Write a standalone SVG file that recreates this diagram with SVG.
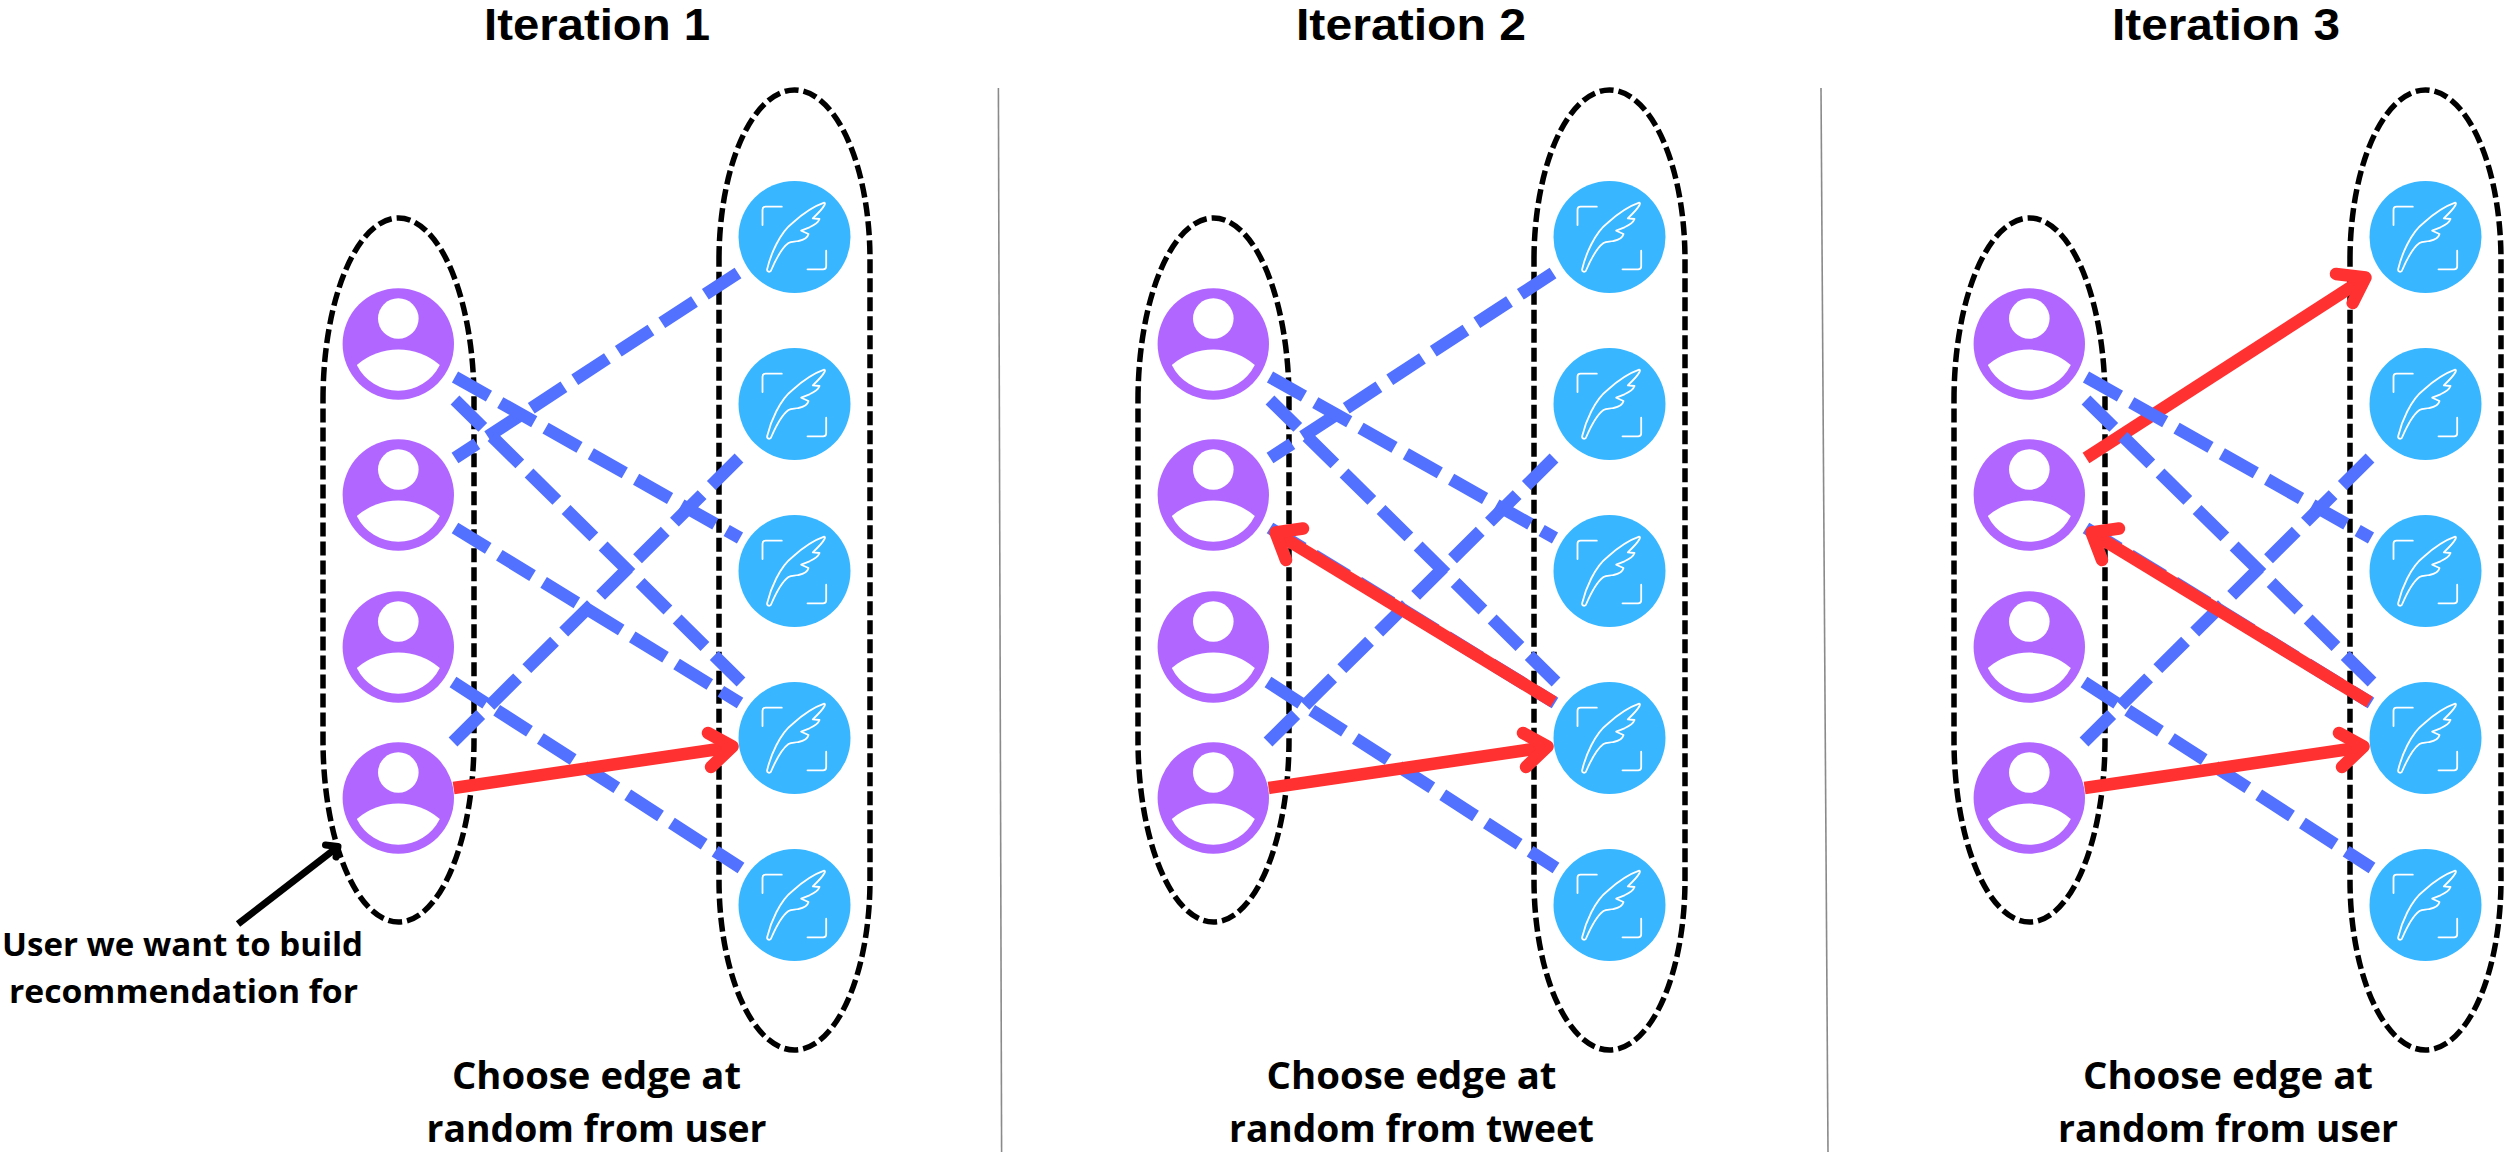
<svg xmlns="http://www.w3.org/2000/svg" width="2514" height="1155" viewBox="0 0 2514 1155">
<style>
text{font-family:"Open Sans","Noto Sans","Liberation Sans",sans-serif;font-weight:700;fill:#000;text-anchor:middle}
.t{font-family:"Liberation Sans","Open Sans",sans-serif;font-size:44px}
.c{font-size:38px}
.a{font-size:33px}
.oval{fill:none;stroke:#000;stroke-width:5.5;stroke-dasharray:14 5}
.b{stroke:#5271ff;stroke-width:12.5;stroke-dasharray:39 13;fill:none}
.r{stroke:#ff3131;stroke-width:12.5;fill:none;stroke-linecap:butt}
.h{stroke:#ff3131;stroke-width:12.5;fill:none;stroke-linecap:round;stroke-linejoin:round}
.d{stroke:#8a8a8a;stroke-width:1.6;fill:none}
.w{fill:none;stroke:#fff;stroke-width:1.8;stroke-linejoin:round;stroke-linecap:round}
.k{stroke:#000;stroke-width:7;fill:none}
</style>
<defs>
<g id="user"><circle r="55.7" fill="#b066ff"/><circle cy="-25.5" r="20.3" fill="#fff"/><path d="M-41.5 21A63.6 63.6 0 0 1 41.5 21A46.3 46.3 0 0 1-41.5 21Z" fill="#fff"/></g>
<g id="tweet"><circle r="56" fill="#38b6ff"/>
<path class="w" d="M-12.7-30.3H-29Q-32-30.3-32-27.3V-12M13 32.3H28.7Q31.7 32.3 31.7 29.3V13.7"/>
<path class="w" d="M-26 34.7Q-27.800 34-27.3 32C-24 18-15-4-2-14C8-23 20-31 29.7-34.3Q31-34 30-32C28-28 24-24 18.3-18.7L25-18C24-15 20-12 15-9.7L6.7-6.3L14-3C13 1 9 3 4 4C0 5-3 4-6 6C-13 11-19 23-23.7 34Q-24.5 35-26 34.7Z"/></g>
<path id="ovalL" class="oval" d="M323 400A75.5 182 0 0 1 474 400V740A75.5 182 0 0 1 323 740Z"/>
<path id="ovalR" class="oval" d="M719 260A75.5 170 0 0 1 870 260V880A75.5 170 0 0 1 719 880Z"/>
<g id="edges" >
<path class="b" d="M455 377L740 538"/><path class="b" d="M455 400L741 682"/><path class="b" d="M739 458L453 742"/><path class="b" d="M455 528L740 703"/><path class="b" d="M453 682L741 868"/>
</g>
<g id="forward"><path class="r" d="M453.600 788L729 747.500"/><path class="h" d="M708 733L732.500 746.500L711 767"/></g>
<g id="back"><path class="r" d="M738.500 702L464 535"/><path class="h" d="M488 528.500L460.500 532.500L471 560"/></g>
</defs>
<rect width="2514" height="1155" fill="#fff"/>
<g id="dividers"><path class="d" d="M998.400 88L1001.600 1152"/><path class="d" d="M1821 88L1828 1152"/></g>
<g id="titles">
<text class="t" x="597" y="40" textLength="226" lengthAdjust="spacingAndGlyphs">Iteration 1</text>
<text class="t" x="1411" y="40" textLength="230" lengthAdjust="spacingAndGlyphs">Iteration 2</text>
<text class="t" x="2226" y="40" textLength="228" lengthAdjust="spacingAndGlyphs">Iteration 3</text>
</g>
<g id="groups">
<use href="#ovalL"/><use href="#ovalR"/>
<use href="#ovalL" x="815"/><use href="#ovalR" x="815"/>
<use href="#ovalL" x="1631"/><use href="#ovalR" x="1631"/>
</g>
<g id="connectors">
<g id="edges-1">
<path class="b" d="M738 273L455 458"/><use href="#edges"/><use href="#forward"/>
<path class="k" d="M238 924L335 849"/><path class="k" d="M325.500 845L338 846.500L336 857" stroke-linecap="round" stroke-linejoin="round"/>
</g>
<g id="edges-2" transform="translate(815 0)">
<path class="b" d="M738 273L455 458"/><use href="#edges"/><use href="#forward"/><use href="#back"/>
</g>
<g id="edges-3" transform="translate(1631 0)">
<path class="r" d="M455 458L731 280"/><path class="h" d="M705 274L734.500 277.500L721.700 303"/>
<use href="#edges"/><use href="#forward"/><use href="#back"/>
</g>
</g>
<g id="user-1-1"><use href="#user" x="398.3" y="344"/></g>
<g id="user-1-2"><use href="#user" x="398.3" y="495"/></g>
<g id="user-1-3"><use href="#user" x="398.3" y="647"/></g>
<g id="user-1-4"><use href="#user" x="398.3" y="798"/></g>
<g id="tweet-1-1"><use href="#tweet" x="794.5" y="237"/></g>
<g id="tweet-1-2"><use href="#tweet" x="794.5" y="404"/></g>
<g id="tweet-1-3"><use href="#tweet" x="794.5" y="571"/></g>
<g id="tweet-1-4"><use href="#tweet" x="794.5" y="738"/></g>
<g id="tweet-1-5"><use href="#tweet" x="794.5" y="905"/></g>
<g id="user-2-1"><use href="#user" x="1213.3" y="344"/></g>
<g id="user-2-2"><use href="#user" x="1213.3" y="495"/></g>
<g id="user-2-3"><use href="#user" x="1213.3" y="647"/></g>
<g id="user-2-4"><use href="#user" x="1213.3" y="798"/></g>
<g id="tweet-2-1"><use href="#tweet" x="1609.5" y="237"/></g>
<g id="tweet-2-2"><use href="#tweet" x="1609.5" y="404"/></g>
<g id="tweet-2-3"><use href="#tweet" x="1609.5" y="571"/></g>
<g id="tweet-2-4"><use href="#tweet" x="1609.5" y="738"/></g>
<g id="tweet-2-5"><use href="#tweet" x="1609.5" y="905"/></g>
<g id="user-3-1"><use href="#user" x="2029.3" y="344"/></g>
<g id="user-3-2"><use href="#user" x="2029.3" y="495"/></g>
<g id="user-3-3"><use href="#user" x="2029.3" y="647"/></g>
<g id="user-3-4"><use href="#user" x="2029.3" y="798"/></g>
<g id="tweet-3-1"><use href="#tweet" x="2425.5" y="237"/></g>
<g id="tweet-3-2"><use href="#tweet" x="2425.5" y="404"/></g>
<g id="tweet-3-3"><use href="#tweet" x="2425.5" y="571"/></g>
<g id="tweet-3-4"><use href="#tweet" x="2425.5" y="738"/></g>
<g id="tweet-3-5"><use href="#tweet" x="2425.5" y="905"/></g>
<g id="labels">
<text class="a" x="182.5" y="956" textLength="361" lengthAdjust="spacingAndGlyphs">User we want to build</text>
<text class="a" x="183.5" y="1003" textLength="349" lengthAdjust="spacingAndGlyphs">recommendation for</text>
<text class="c" x="596.5" y="1089" textLength="289" lengthAdjust="spacingAndGlyphs">Choose edge at</text>
<text class="c" x="596.5" y="1142" textLength="340" lengthAdjust="spacingAndGlyphs">random from user</text>
<text class="c" x="1411.5" y="1089" textLength="290" lengthAdjust="spacingAndGlyphs">Choose edge at</text>
<text class="c" x="1411.5" y="1142" textLength="365" lengthAdjust="spacingAndGlyphs">random from tweet</text>
<text class="c" x="2228" y="1089" textLength="290" lengthAdjust="spacingAndGlyphs">Choose edge at</text>
<text class="c" x="2228" y="1142" textLength="340" lengthAdjust="spacingAndGlyphs">random from user</text>
</g>
</svg>
